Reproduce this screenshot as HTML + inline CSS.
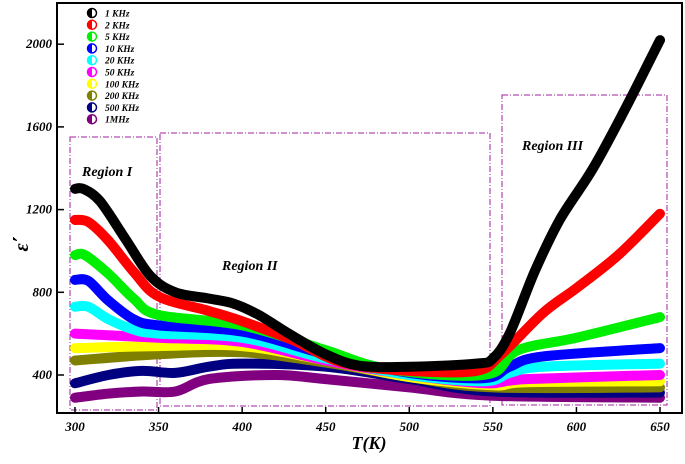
<!DOCTYPE html>
<html><head><meta charset="utf-8"><style>
body{margin:0;background:#fff}
svg text{font-family:"Liberation Serif",serif;font-weight:bold;font-style:italic}
</style></head><body>
<svg id="chart" width="685" height="459" viewBox="0 0 685 459" xmlns="http://www.w3.org/2000/svg">
<g id="regions" fill="none" stroke="#a020a0" stroke-width="1" stroke-dasharray="6,2,1,2">
<rect x="70" y="137" width="87" height="273"/>
<rect x="160" y="133" width="330" height="273"/>
<rect x="502" y="95" width="165" height="310"/>
</g>
<g id="series"></g>
<rect x="57" y="3" width="625" height="410" fill="none" stroke="#000" stroke-width="2"/>
<g id="axes"></g>
<text x="82" y="176" font-size="14">Region I</text>
<text x="222" y="270" font-size="14">Region II</text>
<text x="522" y="150" font-size="14">Region III</text>
<text x="369" y="449" font-size="18" text-anchor="middle">T(K)</text>
<text x="28" y="244" font-size="20" text-anchor="middle" transform="rotate(-90 28 244)">ε΄</text>
<g id="legend"></g>
</svg>
<script>
const labels=["1 KHz","2 KHz","5 KHz","10 KHz","20 KHz","50 KHz","100 KHz","200 KHz","500 KHz","1MHz"];
const colors=["#000000","#ff0000","#00ee00","#0000ff","#00ffff","#ff00ff","#ffff00","#808000","#000080","#800080"];
const T1=[300,305,315,330,345,360,380,395,410,430,450,470,500,540,550,560,575,590,610,630,650];
const E1=[1300,1300,1240,1060,880,800,770,745,690,590,500,445,440,455,480,600,900,1150,1400,1700,2020];
const T2=[300,308,320,335,350,380,400,430,460,500,540,555,580,600,625,650];
const E2=[1150,1140,1050,900,780,710,660,570,460,420,420,500,700,820,980,1180];
const T3=[300,306,320,335,350,400,450,480,520,550,565,600,650];
const E3=[980,980,890,770,690,640,520,440,400,410,520,580,680];
const T4=[300,308,320,335,350,400,450,500,545,560,580,650];
const E4=[860,855,760,670,640,610,500,410,385,440,490,530];
const T5=[300,308,320,335,350,400,450,500,545,560,580,650];
const E5=[730,730,670,620,600,580,480,400,370,410,440,455];
const T6=[300,350,400,450,500,545,570,650];
const E6=[600,580,560,470,400,360,380,400];
const T7=[300,350,400,450,500,550,570,650];
const E7=[530,540,540,470,390,350,365,370];
const T8=[300,350,400,450,500,550,650];
const E8=[470,500,510,460,390,340,340];
const T9=[300,320,340,360,380,400,450,500,550,650];
const E9=[360,400,420,410,440,455,440,380,320,315];
const T10=[300,320,340,360,380,420,450,500,550,650];
const E10=[290,310,320,320,380,400,380,340,300,290];
const xTicks=[300,350,400,450,500,550,600,650];
const yTicks=[400,800,1200,1600,2000];
const Ts=[T1,T2,T3,T4,T5,T6,T7,T8,T9,T10], Es=[E1,E2,E3,E4,E5,E6,E7,E8,E9,E10];
const NS="http://www.w3.org/2000/svg";
const xs=t=>75+(t-300)*(585/350);
const ys=v=>375-(v-400)*(82.7/400);
function mk(tag,parent,attrs){const e=document.createElementNS(NS,tag);for(const k in attrs)e.setAttribute(k,attrs[k]);parent.appendChild(e);return e;}
function smooth(P){
  let d="M"+P[0][0].toFixed(1)+","+P[0][1].toFixed(1);
  for(let i=0;i<P.length-1;i++){
    const p0=P[Math.max(0,i-1)],p1=P[i],p2=P[i+1],p3=P[Math.min(P.length-1,i+2)];
    const c1=[p1[0]+(p2[0]-p0[0])/6,p1[1]+(p2[1]-p0[1])/6];
    const c2=[p2[0]-(p3[0]-p1[0])/6,p2[1]-(p3[1]-p1[1])/6];
    d+=`C${c1[0].toFixed(1)},${c1[1].toFixed(1)} ${c2[0].toFixed(1)},${c2[1].toFixed(1)} ${p2[0].toFixed(1)},${p2[1].toFixed(1)}`;
  }
  return d;
}
const sg=document.getElementById('series');
for(let i=Ts.length-1;i>=0;i--){
  const P=Ts[i].map((t,j)=>[xs(t),ys(Es[i][j])]);
  const p=mk('path',sg,{d:smooth(P),fill:"none",stroke:colors[i],"stroke-width":10,"stroke-linejoin":"round","stroke-linecap":"round"});
  
  
}
const ag=document.getElementById('axes');
xTicks.forEach(t=>{
  const l=mk('line',ag,{x1:xs(t),x2:xs(t),y1:413,y2:407,stroke:"#000","stroke-width":1.5});
  
  
  const tx=mk('text',ag,{x:xs(t),y:431,"font-size":13,"text-anchor":"middle"});
  
  
  tx.textContent=t;
});
yTicks.forEach(v=>{
  const l=mk('line',ag,{x1:57,x2:64,y1:ys(v),y2:ys(v),stroke:"#000","stroke-width":1.5});
  
  
  const tx=mk('text',ag,{x:52,y:ys(v)+4,"font-size":13,"text-anchor":"end"});
  
  
  tx.textContent=v;
});
const lg=document.getElementById('legend');
labels.forEach((s,i)=>{
  const y=13+i*11.8;
  const c=mk('circle',lg,{cx:92,cy:y,r:4.5,fill:"#fff",stroke:colors[i],"stroke-width":1.5});
  
  
  const h=mk('path',lg,{d:`M92,${y-4.5} A4.5,4.5 0 0 0 92,${y+4.5} Z`,fill:colors[i]});
  
  
  const tx=mk('text',lg,{x:105,y:y+3.5,"font-size":9.5});
  
  
  tx.textContent=s;
});
</script>
</body></html>
